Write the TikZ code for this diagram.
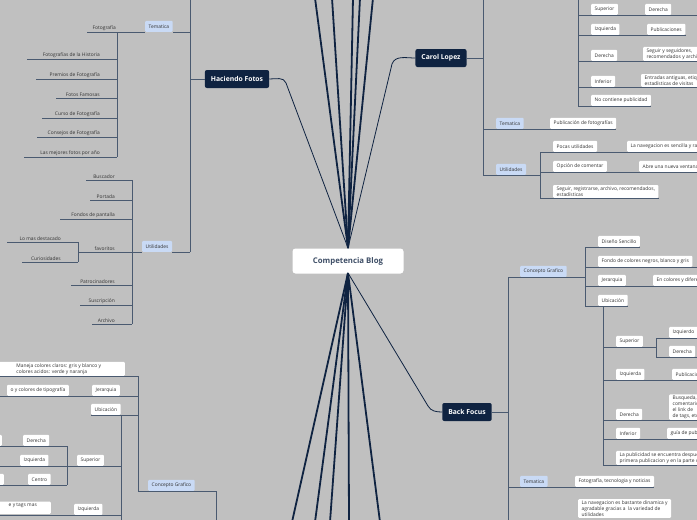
\documentclass[tikz,border=0pt]{standalone}
\usepackage{fontspec}
\setmainfont{Open Sans}
\definecolor{bg}{HTML}{C0C0C0}
\definecolor{navy}{HTML}{0F2341}
\definecolor{lblue}{HTML}{C9DAF5}
\definecolor{ln}{HTML}{4A5A70}
\begin{document}
\begin{tikzpicture}[x=1pt,y=-1pt,
 box/.style={fill=white,rounded corners=1pt,inner xsep=3.5pt,inner ysep=1.6pt,font=\fontsize{4.9}{5.8}\selectfont,text=black!80,align=left,minimum height=11pt,anchor=south west},
 tag/.style={box,fill=lblue},
 plain/.style={font=\fontsize{4.9}{5.8}\selectfont,text=black!80,inner sep=1pt,anchor=south east},
 main/.style={fill=navy,text=white,rounded corners=2pt,font=\fontsize{6.8}{7}\selectfont\bfseries,minimum height=18pt,inner xsep=6pt},
 br/.style={draw=ln,line width=0.7pt},
 thick/.style={draw=navy,line width=1.8pt},
 arm/.style={draw=navy,line width=0.8pt}]
\useasboundingbox (0,0) rectangle (697,520);
\fill[bg] (0,0) rectangle (697,520);
\begin{scope}
\clip (0,0) rectangle (697,520);
% central
\node[fill=white,rounded corners=3pt,minimum width=111pt,minimum height=25pt,font=\fontsize{7.8}{8}\selectfont\bfseries,text=navy!80] (cb) at (348,261) {Competencia Blog};
\coordinate (ct) at (348,248); \coordinate (cbo) at (348,273);
\foreach \x in {315,332,353,360,373} \draw[thick] (ct) -- (\x,-2);
\foreach \x in {292,315,330,349,380} \draw[thick] (cbo) -- (\x,522);
\node[main] (hf) at (237,79) {Haciendo Fotos};
\node[main] (cl) at (441,58) {Carol Lopez};
\node[main] (bf) at (467,412) {Back Focus};
\draw[arm] (ct) -- (286,83) to[out=110,in=0] (hf.east);
\draw[arm] (ct) -- (392,64) to[out=70,in=180] (cl.west);
\draw[arm] (cbo) -- (428,406) to[out=-60,in=180] (bf.west);

% ---- Haciendo Fotos
\draw[br] (190,-2) -- (190,252); \draw[br] (190,79) -- (hf.west);
\node[tag] (ht) at (145,32) {Tematica}; \draw[br] (190,32) -- (ht.south east);
\draw[br] (117,32) -- (117,157);
\node[plain] (hfo) at (117,32) {Fotografía}; \draw[br] (87,32) -- (ht.south west);
\foreach \y/\t/\s in {59/Fotografías de la Historia/27,79/Premios de Fotografía/36,98/Fotos Famosas/56,118/Curso de Fotografía/42,137/Consejos de Fotografía/37,157/Las mejores fotos por año/24}
 {\node[plain] at (101,\y) {\t}; \draw[br] (\s,\y) -- (117,\y);}
\node[tag] (hu) at (142,252) {Utilidades}; \draw[br] (hu.south east) -- (190,252);
\draw[br] (132,180) -- (132,324);
\foreach \y/\t/\s in {180/Buscador/86,200/Portada/90,219/Fondos de pantalla/60,285/Patrocinadores/71,305/Suscripción/80,324/Archivo/92}
 {\node[plain] at (116,\y) {\t}; \draw[br] (\s,\y) -- (132,\y);}
\node[plain] (fav) at (116,252) {favoritos}; \draw[br] (78,252) -- (hu.south west);
\draw[br] (78,242) -- (78,262);
\node[plain] at (62,242) {Lo mas destacado}; \draw[br] (7,242) -- (78,242);
\node[plain] at (62,262) {Curiosidades}; \draw[br] (22,262) -- (78,262);

% ---- Carol Lopez
\draw[br] (483,-2) -- (483,175); \draw[br] (cl.east) -- (483,58);
\draw[br] (578,-2) -- (578,106);
\node[box] (a1) at (591,15) {Superior}; \node[box] (a2) at (645,15) {Derecha}; \draw[br] (578,15) -- (697,15);
\node[box] (b1) at (591,35) {Izquierda}; \node[box] (b2) at (647,35) {Publicaciones}; \draw[br] (578,35) -- (b2.south east);
\node[box] (c1) at (591,61) {Derecha}; \node[box] (c2) at (643,61) {Seguir y seguidores,\\recomendados y archivo}; \draw[br] (578,61) -- (697,61);
\node[box] (d1) at (591,87) {Inferior}; \node[box] (d2) at (641,87) {Entradas antiguas, etiquetas\\estadísticas de visitas}; \draw[br] (578,87) -- (697,87);
\node[box] (e1) at (591,106) {No contiene publicidad}; \draw[br] (578,106) -- (e1.south east);
\node[tag] (ct2) at (496,129) {Tematica}; \node[box] (ct3) at (550,129) {Publicación de fotografías}; \draw[br] (483,129) -- (ct3.south east);
\node[tag] (cu) at (496,175) {Utilidades}; \draw[br] (483,175) -- (540,175);
\draw[br] (540,152) -- (540,198);
\node[box] (f1) at (553,152) {Pocas utilidades}; \node[box] (f2) at (627,152) {La navegacion es sencilla y rapida}; \draw[br] (540,152) -- (697,152);
\node[box] (g1) at (553,172) {Opción de comentar}; \node[box] (g2) at (639,172) {Abre una nueva ventana}; \draw[br] (540,172) -- (697,172);
\node[box] (h1) at (553,198) {Seguir, registrarse, archivo, recomendados,\\estadísticas}; \draw[br] (540,198) -- (h1.south east);

% ---- Back Focus
\draw[br] (508,277) -- (508,522); \draw[br] (bf.east) -- (508,412);
\node[tag] (bc) at (520,277) {Concepto Grafico}; \draw[br] (508,277) -- (585,277);
\draw[br] (585,247) -- (585,306);
\node[box] (i1) at (598,247) {Diseño Sencillo}; \draw[br] (585,247) -- (i1.south east);
\node[box] (i2) at (598,267) {Fondo de colores negros, blanco y gris}; \draw[br] (585,267) -- (697,267);
\node[box] (i3) at (598,286) {Jerarquia}; \node[box] (i4) at (653,286) {En colores y diferentes tamaños}; \draw[br] (585,286) -- (697,286);
\node[box] (i5) at (598,306) {Ubicación}; \draw[br] (585,306) -- (i5.south east);
\draw[br] (603,306) -- (603,465);
\node[box] (j1) at (616,347) {Superior}; \draw[br] (603,347) -- (656,347); \draw[br] (656,338) -- (656,357);
\node[box] (j2) at (669,338) {Izquierdo}; \draw[br] (656,338) -- (697,338);
\node[box] (j3) at (669,357) {Derecha}; \draw[br] (656,357) -- (697,357);
\node[box] (k1) at (616,380) {Izquierda}; \node[box] (k2) at (672,380) {Publicaciones}; \draw[br] (603,380) -- (697,380);
\node[box] (l1) at (616,420) {Derecha}; \node[box] (l2) at (669,420) {Busqueda,\\comentarios,\\el link de\\de tags, etc}; \draw[br] (603,420) -- (697,420);
\node[box] (m1) at (616,439) {Inferior}; \node[box] (m2) at (667,439) {guía de publicaciones}; \draw[br] (603,439) -- (697,439);
\node[box] (n1) at (616,465) {La publicidad se encuentra después de la\\primera publicacion y en la parte derecha}; \draw[br] (603,465) -- (697,465);
\node[tag] (bt) at (520,487) {Tematica}; \node[box] (bt2) at (575,487) {Fotografía, tecnologia y noticias}; \draw[br] (508,487) -- (bt2.south east);
\node[box,anchor=north west] (bn) at (578,499) {La navegacion es bastante dinamica y\\agradable gracias a\ \ la variedad de\\utilidades};

% ---- bottom left
\node[tag] (lc) at (148,491) {Concepto Grafico}; \draw[br] (138,491) -- (216,491) -- (216,522);
\draw[br] (138,376) -- (138,491);
\node[box,anchor=south east,minimum width=132pt] (p1) at (125,376) {Maneja colores claros: gris y blanco y\\colores acidos: verde y naranja}; \draw[br] (-2,376) -- (138,376);
\node[box] (p2) at (92,396) {Jerarquia}; \node[box,anchor=south east] (p3) at (69,396) {o y colores de tipografía}; \draw[br] (-2,396) -- (138,396);
\node[box] (p4) at (91,415) {Ubicación}; \draw[br] (p4.south west) -- (138,415);
\draw[br] (121,415) -- (121,522);
\node[box] (q1) at (77,466) {Superior}; \draw[br] (67,466) -- (121,466); \draw[br] (67,446) -- (67,485);
\node[box] (q2) at (23,446) {Derecha}; \node[box,anchor=south east] at (2,446) {\ }; \draw[br] (-2,446) -- (67,446);
\node[box] (q3) at (20,466) {Izquierda}; \draw[br] (-2,466) -- (67,466);
\node[box] (q4) at (28,485) {Centro}; \node[box,anchor=south east] at (4,485) {o}; \draw[br] (-2,485) -- (67,485);
\node[box] (r1) at (74,515) {Izquierda}; \node[box,anchor=south east,minimum width=56pt] at (51,514) {e y tags mas\\\ }; \draw[br] (-2,515) -- (121,515);
\end{scope}
\end{tikzpicture}
\end{document}
